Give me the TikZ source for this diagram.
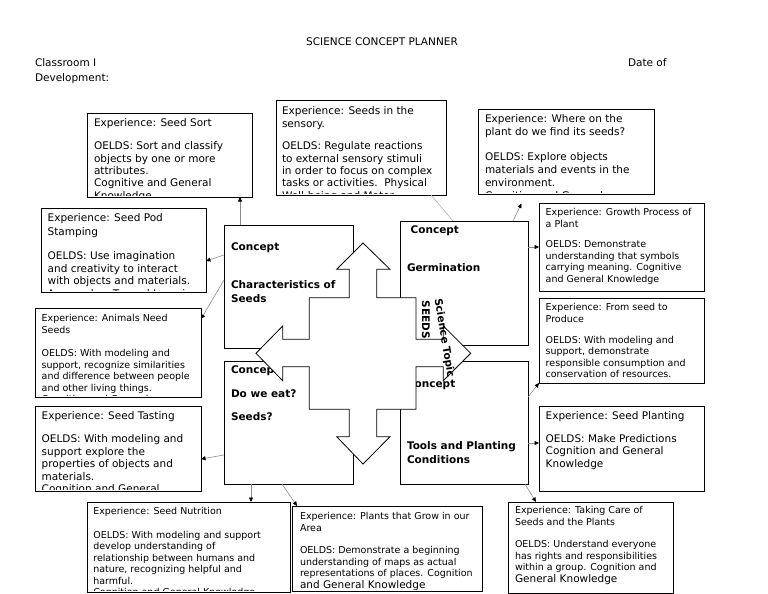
\documentclass[tikz,border=0pt]{standalone}
\usepackage{fontspec}
\setmainfont{DejaVu Sans}
\usetikzlibrary{arrows.meta,fit}
\newcommand\ebox[9]{%
  \node[box, fit={(#2,#3) (#4,#5)}] (#1) {};
  \begin{scope}
    \clip ({#2+1.5},{#3+1.5}) rectangle ({#4-1.5},{#5-1.5});
    \node[txt, #8] (#1t) at (#6,#7) {#9};
  \end{scope}}
\begin{document}
\begin{tikzpicture}[x=1pt,y=-1pt,
  box/.style={draw=black, line width=0.9pt, inner sep=0pt, outer sep=0pt, fill=white},
  txt/.style={anchor=north west, inner sep=0pt, outer sep=0pt, align=left},
  fa/.style={font=\fontsize{10.5}{12.4}\selectfont},
  fw/.style={font=\fontsize{10.5}{13.1}\selectfont},
  fp/.style={font=\fontsize{10.5}{12.5}\selectfont},
  fb/.style={font=\fontsize{9.5}{11.5}\selectfont},
  ctxt/.style={anchor=north west, inner sep=0pt, outer sep=0pt, align=left, font=\fontsize{10.5}{14.5}\selectfont\bfseries},
  conn/.style={draw=black!45, line width=0.6pt, -{Triangle[length=4.5pt,width=4pt,color=black]}},
  plain/.style={inner sep=0pt, outer sep=0pt, font=\fontsize{10.5}{12.4}\selectfont},
]
\fill[white] (0,0) rectangle (768,594);
\useasboundingbox (0,0) rectangle (768,594);

% header
\node[plain] (title) at (382,42) {SCIENCE CONCEPT PLANNER};
\node[plain, anchor=west] (cls) at (35,63) {Classroom I};
\node[plain, anchor=west] (dev) at (35,79) {Development:};
\node[plain, anchor=west] (date) at (628,63) {Date of};

% experience boxes
\ebox{ss}{87}{113}{252}{197}{94}{118.3}{fa}{Experience: Seed Sort\\[11pt]OELDS: Sort and classify\\objects by one or more\\attributes.\\Cognitive and General\\Knowledge}
\ebox{sens}{276}{100}{446}{195}{282}{107}{fa}{Experience: Seeds in the\\sensory.\\[10pt]OELDS: Regulate reactions\\to external sensory stimuli\\in order to focus on complex\\tasks or activities.~~Physical\\Well-being and Motor}
\ebox{where}{478}{109}{654}{194}{485}{114.8}{fw}{Experience: Where on the\\plant do we find its seeds?\\[11.2pt]OELDS: Explore objects\\materials and events in the\\environment.\\Cognition and General}
\ebox{grow}{539}{203}{704}{291}{545.7}{208.3}{fb}{Experience: Growth Process of\\a Plant\\[9pt]OELDS: Demonstrate\\understanding that symbols\\carrying meaning. Cognitive\\and General Knowledge}
\ebox{prod}{539}{298}{704}{383}{545.7}{303.3}{fb}{Experience: From seed to\\Produce\\[9.5pt]OELDS: With modeling and\\support, demonstrate\\responsible consumption and\\conservation of resources.}
\ebox{pod}{41}{208}{206}{292}{47.7}{213.3}{fp}{Experience: Seed Pod\\[1.8pt]Stamping\\[11.5pt]OELDS: Use imagination\\and creativity to interact\\with objects and materials.\\Approaches Toward Learning}
\ebox{anim}{35}{308}{201}{397}{41.7}{313.8}{fb}{Experience: Animals Need\\[1pt]Seeds\\[11.5pt]OELDS: With modeling and\\support, recognize similarities\\and difference between people\\and other living things.\\Cognition and General}
\ebox{taste}{35}{406}{201}{491}{41.7}{411.5}{fa}{Experience: Seed Tasting\\[11pt]OELDS: With modeling and\\support explore the\\properties of objects and\\materials.\\Cognition and General}
\ebox{nutr}{87}{502}{290}{592}{93.3}{507.3}{fb}{Experience: Seed Nutrition\\[12pt]OELDS: With modeling and support\\develop understanding of\\relationship between humans and\\nature, recognizing helpful and\\harmful.\\Cognition and General Knowledge}
\ebox{area}{292}{506}{482}{591}{300}{512.7}{fb}{Experience: Plants that Grow in our\\Area\\[11pt]OELDS: Demonstrate a beginning\\understanding of maps as actual\\representations of places. Cognition\\{\fontsize{10.5}{12}\selectfont and General Knowledge}}
\ebox{care}{508}{502}{673}{593}{515}{506.7}{fb}{Experience: Taking Care of\\Seeds and the Plants\\[11pt]OELDS: Understand everyone\\has rights and responsibilities\\within a group. Cognition and\\{\fontsize{10.5}{12}\selectfont General Knowledge}}
\ebox{plant}{539}{406}{704}{491}{545.7}{411.7}{fa}{Experience: Seed Planting\\[10.5pt]OELDS: Make Predictions\\Cognition and General\\Knowledge}

% concept boxes
\node[box, fit={(224,225) (353,348)}] (c1) {};
\node[box, fit={(224,361) (353,484)}] (c2) {};
\node[box, fit={(400,221) (528,345)}] (c3) {};
\node[box, fit={(400,361) (528,484)}] (c4) {};
\node[ctxt] (c1t) at (231,242.3) {Concept\\[23.5pt]Characteristics of\\Seeds};
\node[ctxt] (c2t) at (231,366.2) {Concept\\[9pt]Do we eat?\\[9pt]Seeds?};
\node[ctxt] (c3t) at (407,226.2) {\hspace*{3.7pt}Concept\\[23.5pt]Germination};
\node[ctxt] (c4t) at (407,380.2) {Concept\\[47pt]Tools and Planting\\Conditions};

% central four-way arrow
\draw[fill=white, line width=0.8pt, line join=miter]
  (363,243) -- (390,269.3) -- (376.7,269.3) -- (376.7,297.7) -- (416,297.7)
  -- (416,339.3) -- (443.3,339.3) -- (443.3,326) -- (470.7,353.3)
  -- (443.3,380.7) -- (443.3,366.7) -- (416,366.7) -- (416,409.3)
  -- (376.7,409.3) -- (376.7,436.7) -- (390,436.7) -- (363,464)
  -- (336.7,436.7) -- (349.3,436.7) -- (349.3,409.3) -- (309.3,409.3)
  -- (309.3,366.7) -- (282.7,366.7) -- (282.7,380.7) -- (256,353.3)
  -- (282.7,326) -- (282.7,339.3) -- (309.3,339.3) -- (309.3,297.7)
  -- (349.3,297.7) -- (349.3,269.3) -- (336.7,269.3) -- cycle;
\node[rotate=-80.4, inner sep=0pt, font=\fontsize{10.5}{12}\selectfont\bfseries] (st) at (444,338) {Science Topic};
\node[rotate=-90, inner sep=0pt, font=\fontsize{10.5}{12}\selectfont\bfseries] (sd) at (426,320) {SEEDS};

% connectors
\draw[conn] (240,0 |- c1.north) -- (240,0 |- ss.south);
\draw[conn] (c1.west |- 0,255) -- (pod.east |- 0,261);
\draw[conn] (c1.west |- 0,280) -- (anim.east |- 0,319);
\draw[conn] (c2.west |- 0,455) -- (taste.east |- 0,459);
\draw[conn] (251,0 |- c2.south) -- (251,0 |- nutr.north);
\draw[conn] (282,0 |- c2.south) -- (297,0 |- area.north);
\draw[conn] (525,0 |- c4.south) -- (536,0 |- care.north);
\draw[conn] (c4.east |- 0,443) -- (plant.west |- 0,443);
\draw[conn] (c4.east |- 0,397) -- (prod.south west);
\draw[conn] (c3.east |- 0,247) -- (grow.west |- 0,247);
\draw[conn, shorten >=10.5pt] (513,0 |- c3.north) -- (526,0 |- where.south);
\draw[draw=black!30, line width=0.6pt] (453,0 |- c3.north) -- (431,0 |- sens.south);
\end{tikzpicture}
\end{document}
